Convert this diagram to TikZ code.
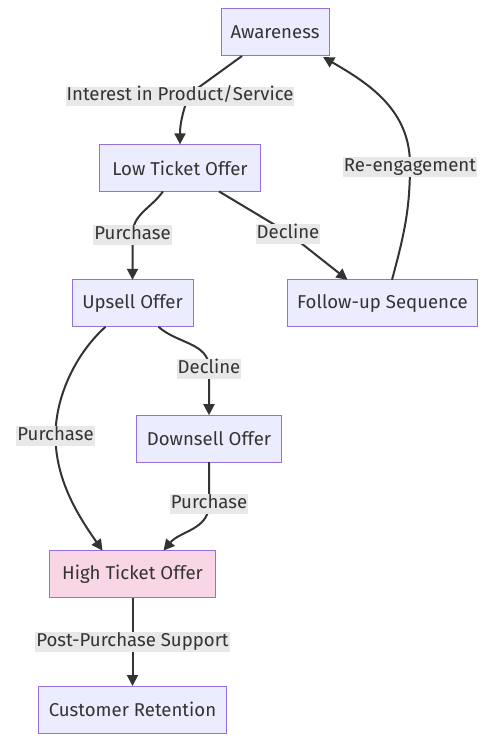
\documentclass[tikz,border=0pt]{standalone}
\usepackage{fontspec}
\setmainfont{Fira Sans}
\definecolor{boxfill}{RGB}{236, 236, 255}
\definecolor{boxline}{RGB}{147, 112, 219}
\definecolor{hotfill}{RGB}{249, 214, 229}
\definecolor{lblfill}{RGB}{232, 232, 232}
\definecolor{ink}{RGB}{51, 51, 51}
\usetikzlibrary{
  arrows.meta,
  positioning,
}
\tikzset{
  >={Triangle[length=11pt,width=11pt]},
  box/.style={draw=boxline,fill=boxfill,line width=1pt,outer sep=0pt,rectangle,minimum height=47pt,text=ink,font=\fontsize{18.6}{22}\selectfont},
  lbl/.style={fill=lblfill,inner sep=1pt,text height=13pt,text depth=4.5pt,text=ink,font=\fontsize{18.6}{22}\selectfont},
  edge/.style={->,draw=ink,line width=2pt},
}
\begin{document}
\begin{tikzpicture}[x=1pt,y=1pt,node distance=88.4pt and 94.5pt]
        \useasboundingbox (0,0) rectangle (500,-743);

        \node[box,minimum width=108] (aw) at (275,-32.5) {Awareness};
        \node[box,minimum width=161,xshift=-95] (lo) [below=of aw] {Low Ticket Offer};
        \node[box,minimum width=121,xshift=-47.5] (up) [below=of lo] {Upsell Offer};
        \node[box,minimum width=190] (fu) [right=of up] {Follow-up Sequence};
        \node[box,minimum width=145,xshift=76.5] (dn) [below=of up] {Downsell Offer};
        \node[box,minimum width=166,xshift=-76.5,fill=hotfill] (hi) [below=of dn] {High Ticket Offer};
        \node[box,minimum width=188] (cr) [below=of hi] {Customer Retention};

        \draw[edge] ([xshift=-33]aw.south) -- ([xshift=9,yshift=50]lo.north) node[lbl,xshift=-9,yshift=-2] {Interest in Product/Service} to[out=-110,in=90] (lo.north);
        \draw[edge] ([xshift=-17]lo.south) to[out=-125,in=90] ([yshift=45]up.north) node[lbl] {Purchase} -- (up.north);
        \draw[edge] ([xshift=39]lo.south) -- ([xshift=-94.5,yshift=47]fu.north) node[lbl,yshift=-1] {Decline} -- ([xshift=-35]fu.north);
        \draw[edge] ([xshift=9.5]fu.north) to[out=75,in=-90] ([xshift=27.5,yshift=115]fu.north) node[lbl,yshift=-2] {Re-engagement} to[out=90,in=-30] ([xshift=-6,yshift=-1]aw.south east);
        \draw[edge] ([xshift=26]up.south) to[out=-42,in=90] ([yshift=47]dn.north) node[lbl,yshift=-1] {Decline} -- (dn.north);
        \draw[edge] ([xshift=-27]up.south) to[out=-138,in=90,looseness=0.85] ([xshift=-77,yshift=-109]up.south) node[lbl] {Purchase} to[out=-90,in=125,looseness=0.9] ([xshift=-30]hi.north);
        \draw[edge] (dn.south) -- ([yshift=-42]dn.south) node[lbl] {Purchase} to[out=-90,in=50] ([xshift=31]hi.north);
        \draw[edge] (hi.south) -- (cr.north) node[lbl,midway] {Post-Purchase Support};

    \end{tikzpicture}
\end{document}
